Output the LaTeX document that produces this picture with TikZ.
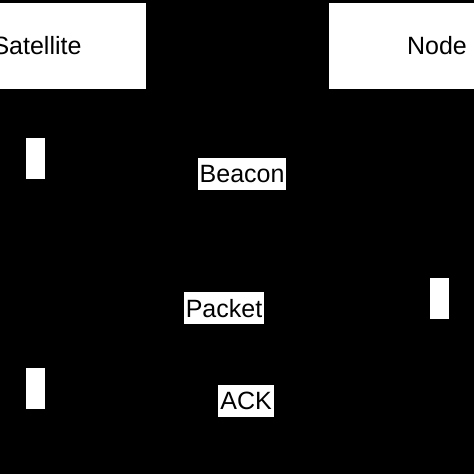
\documentclass[tikz,border=0pt]{standalone}
\usepackage{fontspec}
\setmainfont{Liberation Sans}
\usetikzlibrary{arrows}

\begin{document}
\begin{tikzpicture}[>=stealth',x=1pt,y=-1pt,
    actor/.style={draw=black,fill=white,minimum width=218pt,minimum height=87pt,font=\fontsize{25}{29}\selectfont},
    act/.style={draw=black,fill=white,minimum width=20pt,minimum height=42pt,inner sep=0pt},
    msg/.style={fill=white,inner xsep=2pt,inner ysep=0pt,minimum height=32pt,font=\fontsize{25}{29}\selectfont}]
            \fill[black] (0,0) rectangle (474,474);
            \useasboundingbox (0,0) rectangle (474,474);
            \node[actor] (sat) at (37,45.5)  {Satellite};
            \node[actor] (nod) at (437,45.5) {Node};
            \node[act]   (s1)  at (35,158)   {};
            \node[act]   (n1)  at (439,298)  {};
            \node[act]   (s2)  at (35,388)   {};
            \coordinate (b) at (439,190);
            \coordinate (p) at (35,318);
            \coordinate (a) at (439,414);
            \coordinate (se) at (35,474);
            \coordinate (ne) at (439,474);
            \draw[black,dashed] (sat) -- (s1) -- (s2) -- (se);
            \draw[black,dashed] (nod) -- (n1) -- (ne);
            \draw[black,->] (s1.east) -- node[msg,pos=.5]  {Beacon} (b);
            \draw[black,->] (n1.west) -- node[msg,pos=.52] {Packet} (p);
            \draw[black,->] (s2.east) -- node[msg,pos=.51] {ACK}    (a);
          \end{tikzpicture}
\end{document}
